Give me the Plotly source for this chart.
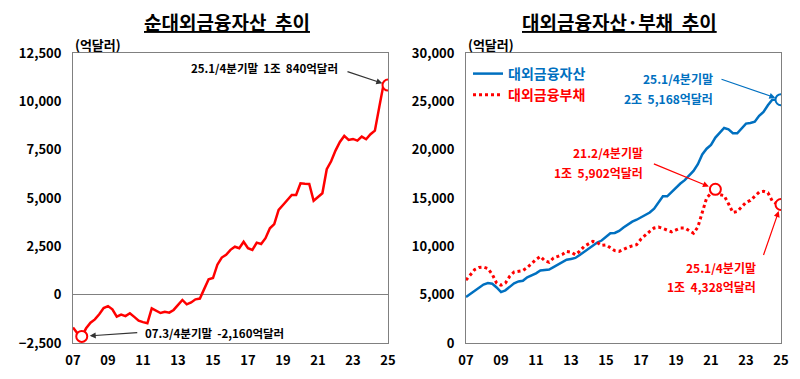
import plotly.graph_objects as go

# quarterly, 2007 Q1 .. 2025 Q1
quarters = [2007 + i / 4 for i in range(73)]

net_assets = [-1700, -2000, -2160, -1740, -1450, -1280, -1010, -690, -590, -760,
              -1140, -1030, -1110, -960, -1150, -1345, -1420, -1480, -710, -850,
              -950, -890, -930, -790, -520, -275, -500, -400, -240, -200,
              300, 800, 860, 1550, 1920, 2060, 2320, 2480, 2400, 2740,
              2400, 2310, 2690, 2620, 2920, 3435, 3650, 4380, 4640, 4900,
              5160, 5160, 5760, 5740, 5730, 4860, 5050, 5245, 6490, 6900,
              7450, 7900, 8210, 8000, 8055, 7970, 8175, 8040, 8300, 8485,
              9700, 10900, 10840]

ext_assets = [4750, 5080, 5450, 5800, 6050, 6200, 6130, 5750, 5270, 5450,
              5800, 6170, 6370, 6430, 6800, 7000, 7200, 7500, 7580, 7600,
              7850, 8130, 8390, 8610, 8700, 8800, 9110, 9450, 9800, 10150,
              10400, 10600, 11000, 11350, 11380, 11600, 11950, 12250, 12550, 12750,
              13000, 13200, 13500, 13900, 14500, 15170, 15170, 15600, 16100, 16500,
              16850, 17300, 17800, 18500, 19500, 20100, 20500, 21250, 21800, 22240,
              22100, 21700, 21700, 22200, 22700, 22760, 22900, 23500, 23900, 24600,
              25170, 25170, 25168]

ext_liabs = [6500, 7100, 7600, 7820, 7850, 7700, 7100, 6200, 5980, 6200,
             6900, 7350, 7430, 7490, 7800, 8250, 8630, 8950, 8500, 8350,
             8800, 8960, 9150, 9480, 9400, 9130, 9500, 10000, 10300, 10510,
             10400, 10100, 10150, 9850, 9550, 9480, 9700, 9900, 10050, 10170,
             10750, 11200, 11550, 11900, 12000, 11850, 11650, 11500, 11700, 11900,
             11900, 11600, 11350, 12000, 13600, 15000, 15500, 15902, 15350, 15250,
             14400, 13500, 13600, 14100, 14550, 14750, 15200, 15600, 15690, 15550,
             14700, 14400, 14328]

x_tickvals = list(range(2007, 2026, 2))
x_ticktext = ["07", "09", "11", "13", "15", "17", "19", "21", "23", "25"]
left_yticks = [-2500, 0, 2500, 5000, 7500, 10000, 12500]
right_yticks = [0, 5000, 10000, 15000, 20000, 25000, 30000]

# highlighted points (indices into the series)
net_low_idx, last_idx, liab_peak_idx = 2, 72, 57

RED = "#FF0000"
BLUE = "#0070C0"
FONT = "Noto Sans CJK KR"
# page body has an 8px margin: the figure occupies window px 8..792 x 8..371
OFF = 8
W, H = 800 - 2 * OFF, 379 - 2 * OFF


def px(x):
    return (x - OFF) / W


def py(y):
    return 1 - (y - OFF) / H


fig = go.Figure()

fig.add_trace(go.Scatter(x=quarters, y=net_assets, mode="lines",
                         line=dict(color=RED, width=2.5), xaxis="x", yaxis="y",
                         showlegend=False))
fig.add_trace(go.Scatter(x=[quarters[net_low_idx], quarters[last_idx]],
                         y=[net_assets[net_low_idx], net_assets[last_idx]],
                         mode="markers", xaxis="x", yaxis="y", showlegend=False,
                         marker=dict(symbol="circle", size=11, color="white",
                                     line=dict(color=RED, width=2))))

fig.add_trace(go.Scatter(x=quarters, y=ext_assets, mode="lines",
                         name='<span style="color:#0070C0">대외금융자산</span>',
                         line=dict(color=BLUE, width=2.5), xaxis="x2", yaxis="y2"))
fig.add_trace(go.Scatter(x=quarters, y=ext_liabs, mode="lines",
                         name='<span style="color:#FF0000">대외금융부채</span>',
                         line=dict(color=RED, width=3, dash="dot"), xaxis="x2", yaxis="y2"))
fig.add_trace(go.Scatter(x=[quarters[last_idx]], y=[ext_assets[last_idx]],
                         mode="markers", xaxis="x2", yaxis="y2", showlegend=False,
                         marker=dict(symbol="circle", size=11, color="white",
                                     line=dict(color=BLUE, width=2))))
fig.add_trace(go.Scatter(x=[quarters[liab_peak_idx], quarters[last_idx]],
                         y=[ext_liabs[liab_peak_idx], ext_liabs[last_idx]],
                         mode="markers", xaxis="x2", yaxis="y2", showlegend=False,
                         marker=dict(symbol="circle", size=11, color="white",
                                     line=dict(color=RED, width=2))))

tickfont = dict(family=FONT, size=13, color="black", weight="bold")
common_x = dict(range=[2007, 2025], tickvals=x_tickvals, ticktext=x_ticktext,
                showgrid=False, zeroline=False, showline=True, mirror=True,
                linecolor="#808080", linewidth=1, ticks="", tickfont=tickfont,
                ticklabelstandoff=5, automargin=False)
common_y = dict(showgrid=False, showline=True, mirror=True, linecolor="#808080",
                linewidth=1, ticks="", tickfont=tickfont, tickformat=",",
                ticklabelstandoff=8, automargin=False)

fig.update_layout(
    width=W, height=H, margin=dict(l=0, r=0, t=0, b=0, autoexpand=False),
    paper_bgcolor="white", plot_bgcolor="white",
    font=dict(family=FONT),
    xaxis=dict(domain=[px(73), px(388)], anchor="y", **common_x),
    yaxis=dict(domain=[py(343), py(53)], anchor="x", range=[-2500, 12500],
               tickvals=left_yticks, zeroline=True, zerolinecolor="#808080",
               zerolinewidth=1, **common_y),
    xaxis2=dict(domain=[px(466), px(781)], anchor="y2", **common_x),
    yaxis2=dict(domain=[py(343), py(53)], anchor="x2", range=[0, 30000],
                tickvals=right_yticks, zeroline=False, **common_y),
    legend=dict(x=px(468), y=py(58), xanchor="left", yanchor="top",
                bgcolor="rgba(0,0,0,0)", itemwidth=30,
                font=dict(family=FONT, size=14, weight="bold"), tracegroupgap=2),
)


def ptext(txt, x, y, size=12, color="black", xanchor="center", bold=True):
    fig.add_annotation(text=txt, x=px(x), y=py(y), xref="paper", yref="paper",
                       showarrow=False, xanchor=xanchor, yanchor="middle",
                       font=dict(family=FONT, size=size, color=color,
                                 weight="bold" if bold else "normal"))


def arrow(xref, yref, x, y, ax, ay, color, standoff):
    fig.add_annotation(text="", x=x, y=y, xref=xref, yref=yref, ax=ax, ay=ay,
                       showarrow=True, arrowhead=2, arrowsize=1, arrowwidth=1.2,
                       arrowcolor=color, standoff=standoff)


# titles
ptext("<u>순대외금융자산  추이</u>", 227, 21.5, size=19)
ptext("<u>대외금융자산·부채  추이</u>", 619, 21.5, size=19)
ptext("(억달러)", 73, 44, size=13, xanchor="left")
ptext("(억달러)", 466, 44, size=13, xanchor="left")

# left annotations
ptext("25.1/4분기말  1조  840억달러", 340, 68, size=11.5, xanchor="right")
arrow("x", "y", quarters[last_idx], net_assets[last_idx], -42, -14, "#333333", 6)
ptext("07.3/4분기말  -2,160억달러", 143, 333, size=11.5, xanchor="left")
arrow("x", "y", quarters[net_low_idx], net_assets[net_low_idx], 57, -4, "#333333", 8)

# right annotations
ptext("25.1/4분기말", 715, 79, size=12, color=BLUE, xanchor="right")
ptext("2조  5,168억달러", 715, 98, size=12, color=BLUE, xanchor="right")
arrow("x2", "y2", quarters[last_idx], ext_assets[last_idx], -61, -21, BLUE, 6)

ptext("21.2/4분기말", 645, 153, size=12, color=RED, xanchor="right")
ptext("1조  5,902억달러", 645, 172, size=12, color=RED, xanchor="right")
arrow("x2", "y2", quarters[liab_peak_idx], ext_liabs[liab_peak_idx], -63, -26, RED, 7)

ptext("25.1/4분기말", 758, 267, size=12, color=RED, xanchor="right")
ptext("1조  4,328억달러", 758, 286, size=12, color=RED, xanchor="right")
arrow("x2", "y2", quarters[last_idx], ext_liabs[last_idx], -18, 52, RED, 7)

fig.write_html("out.html")
